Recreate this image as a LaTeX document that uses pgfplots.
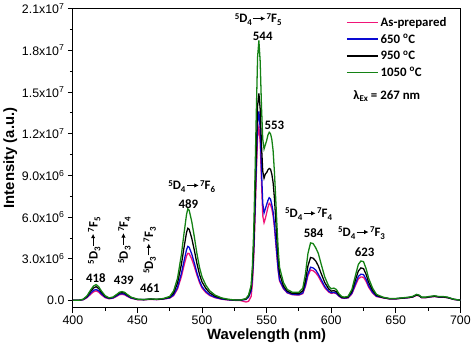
\documentclass[border=0pt]{standalone}
\usepackage{fontspec}
\setmainfont{Liberation Sans}
\newfontfamily\calfont{Carlito}
\usepackage{pgfplots}
\pgfplotsset{compat=1.18}
\usepackage{pgfplotstable}
\usetikzlibrary{arrows.meta}
\definecolor{cpink}{RGB}{240,20,120}
\definecolor{cblue}{RGB}{10,10,210}
\definecolor{cgreen}{RGB}{20,130,20}
\pgfplotstableread{
wl g k b p
400 0.02 0.02 0.02 0.02
405 0.03 0.03 0.03 0.03
408 0.10 0.09 0.07 0.06
411 0.35 0.30 0.25 0.21
414 0.80 0.70 0.56 0.48
416 1.05 0.91 0.74 0.63
418 1.15 1.00 0.80 0.70
420 1.00 0.87 0.70 0.60
422 0.70 0.61 0.49 0.42
425 0.35 0.30 0.25 0.21
428 0.20 0.18 0.15 0.13
431 0.25 0.23 0.19 0.17
434 0.45 0.41 0.35 0.31
436 0.60 0.54 0.46 0.42
438 0.65 0.58 0.50 0.45
440 0.60 0.54 0.46 0.42
442 0.45 0.41 0.35 0.31
445 0.25 0.23 0.19 0.17
450 0.10 0.09 0.08 0.07
455 0.08 0.07 0.07 0.06
460 0.12 0.11 0.10 0.09
465 0.10 0.09 0.08 0.07
470 0.15 0.13 0.12 0.11
475 0.30 0.25 0.20 0.18
478 0.70 0.55 0.41 0.36
481 1.60 1.26 0.94 0.83
484 3.30 2.60 1.95 1.72
486 4.80 3.79 2.83 2.50
488 6.20 4.90 3.66 3.22
489 6.60 5.20 3.90 3.40
490 6.50 5.13 3.84 3.38
492 5.70 4.50 3.36 3.00
494 4.60 3.63 2.71 2.45
496 3.40 2.69 2.01 1.85
498 2.40 1.90 1.42 1.30
500 1.70 1.34 1.00 0.90
503 1.10 0.87 0.65 0.57
506 0.70 0.55 0.41 0.36
510 0.40 0.32 0.24 0.21
515 0.20 0.16 0.12 0.10
520 0.10 0.08 0.06 0.05
525 0.05 0.04 0.03 0.02
530 0.05 0.04 0.03 0.00
534 0.15 0.12 0.08 -0.10
536 0.40 0.32 0.25 -0.05
538 1.10 0.90 0.70 0.30
539 2.50 2.00 1.70 1.20
540 5.00 4.00 3.60 3.00
541 9.00 7.20 6.50 5.80
542 13.5 10.8 9.80 9.00
543 17.5 14.0 12.8 11.8
544 18.7 14.9 13.6 12.5
545 17.2 13.8 12.4 11.4
546 14.0 11.2 9.4 8.6
547 11.6 9.30 7.0 6.1
548 10.9 8.80 6.3 5.6
549 11.2 9.10 6.6 5.9
550 11.5 9.20 6.9 6.3
551 11.9 9.40 7.2 6.7
552 12.1 9.50 7.4 7.0
553 12.0 9.45 7.3 6.9
554 11.6 9.10 6.9 6.6
555 10.8 8.50 6.4 6.1
556 9.3 7.40 5.5 5.3
557 7.4 5.90 4.4 4.2
558 5.4 4.30 3.3 3.1
559 3.6 2.90 2.2 2.1
560 2.4 1.95 1.5 1.4
563 1.3 1.05 0.90 0.85
566 0.8 0.68 0.58 0.55
570 0.6 0.51 0.45 0.42
575 0.6 0.50 0.42 0.40
578 0.9 0.70 0.55 0.50
580 1.9 1.40 1.10 1.00
582 3.4 2.50 1.95 1.80
584 4.15 3.10 2.40 2.20
586 4.10 3.05 2.35 2.15
588 3.80 2.85 2.20 2.00
590 3.40 2.50 1.90 1.75
592 2.70 2.00 1.55 1.40
595 1.70 1.30 1.02 0.92
598 1.05 0.85 0.68 0.62
600 0.85 0.68 0.56 0.52
602 0.90 0.72 0.60 0.55
604 0.80 0.64 0.53 0.50
606 0.50 0.40 0.34 0.31
608 0.30 0.25 0.21 0.19
610 0.25 0.21 0.18 0.16
613 0.30 0.25 0.21 0.19
616 0.80 0.66 0.54 0.48
619 1.90 1.56 1.27 1.14
621 2.60 2.13 1.74 1.56
623 2.85 2.35 1.90 1.70
625 2.80 2.30 1.87 1.68
627 2.30 1.89 1.54 1.38
629 1.60 1.31 1.07 0.96
632 0.90 0.74 0.60 0.54
635 0.45 0.38 0.32 0.29
640 0.25 0.22 0.22 0.20
645 0.15 0.14 0.13 0.12
650 0.15 0.14 0.13 0.12
655 0.20 0.18 0.18 0.17
660 0.25 0.22 0.22 0.21
663 0.30 0.27 0.27 0.25
666 0.45 0.40 0.40 0.38
668 0.40 0.36 0.36 0.34
670 0.25 0.22 0.22 0.21
673 0.25 0.22 0.22 0.21
676 0.30 0.27 0.27 0.25
680 0.35 0.31 0.31 0.30
683 0.30 0.27 0.27 0.25
686 0.30 0.27 0.27 0.25
690 0.25 0.22 0.22 0.21
695 0.10 0.09 0.09 0.08
700 0.03 0.03 0.03 0.03
}\data
\newsavebox\arrbox
\newcommand\sups[1]{\raisebox{0.6ex}{\fontsize{9}{9}\selectfont #1}}
\newcommand\subs[1]{\raisebox{-0.45ex}{\fontsize{9}{9}\selectfont #1}}
\newcommand\arr{\raisebox{0.35ex}{\usebox\arrbox}}
\newcommand\trans[4]{\sups{#1}D\subs{#2}\kern1pt\arr\kern1pt\sups{#3}F\subs{#4}}
\begin{document}
\sbox\arrbox{\tikz\draw[line width=0.9pt,-{Latex[length=4.5pt,width=4.5pt]}](0,0)--(12pt,0);}%
\begin{tikzpicture}[x=1bp,y=1bp]
\begin{axis}[
  scale only axis,
  width=390bp, height=301bp,
  xmin=400, xmax=700, ymin=-0.5, ymax=21,
  xtick={400,450,...,700},
  minor xtick={425,475,...,675},
  ytick={0,3,6,9,12,15,18,21},
  minor ytick={1.5,4.5,...,19.5},
  yticklabels={0.0,3.0x10\textsuperscript{6},6.0x10\textsuperscript{6},9.0x10\textsuperscript{6},1.2x10\textsuperscript{7},1.5x10\textsuperscript{7},1.8x10\textsuperscript{7},2.1x10\textsuperscript{7}},
  xticklabels={400,450,500,550,600,650,700},
  tick pos=left,
  tick align=outside,
  major tick length=5bp,
  minor tick length=3bp,
  every tick/.style={black, line width=0.9pt},
  axis line style={line width=1.1pt},
  tick label style={font=\fontsize{12.5}{14}\selectfont},
  xlabel={\textbf{Wavelength (nm)}},
  ylabel={\textbf{Intensity (a.u.)}},
  label style={font=\fontsize{15}{17}\selectfont},
  xlabel style={yshift=3bp},
  ylabel style={yshift=-2bp},
  legend style={draw=none, fill=none, at={(0.702,0.985)}, anchor=north west,
    font=\calfont\bfseries\fontsize{13}{15}\selectfont, inner sep=1pt,
    nodes={inner ysep=3.2bp}},
  legend cell align=left,
  legend image code/.code={\draw[#1, line width=1.8pt] (0bp,0bp) -- (31bp,0bp);},
  clip=false,
]
\addplot[color=cpink, line width=1.3pt] table[x=wl,y=p]{\data};
\addlegendentry{As-prepared}
\addplot[color=cblue, line width=1.3pt] table[x=wl,y=b]{\data};
\addlegendentry{650 \textsuperscript{o}C}
\addplot[color=black, line width=1.3pt] table[x=wl,y=k]{\data};
\addlegendentry{950 \textsuperscript{o}C}
\addplot[color=cgreen, line width=1.3pt] table[x=wl,y=g]{\data};
\addlegendentry{1050 \textsuperscript{o}C}

\begin{scope}[every node/.style={font=\calfont\bfseries\fontsize{13}{15}\selectfont, inner sep=0pt}]
\node[anchor=west] at (axis cs:617,14.7) {λ\subs{Ex} = 267 nm};
\node at (axis cs:543.5,20.2) {\trans5{4}7{5}};
\node at (axis cs:547,19.0) {544};
\node at (axis cs:556,12.6) {553};
\node at (axis cs:492,8.2) {\trans5{4}7{6}};
\node at (axis cs:489.5,6.95) {489};
\node at (axis cs:417.8,1.65) {418};
\node at (axis cs:439.4,1.45) {439};
\node at (axis cs:459.6,0.9) {461};
\node[rotate=90] at (axis cs:416.5,4.3) {\trans5{3}7{5}};
\node[rotate=90] at (axis cs:440,4.35) {\trans5{3}7{4}};
\node[rotate=90] at (axis cs:459.6,3.6) {\trans5{3}7{3}};
\node at (axis cs:582.5,6.2) {\trans5{4}7{4}};
\node at (axis cs:586.4,4.85) {584};
\node at (axis cs:623.5,4.85) {\trans5{4}7{3}};
\node at (axis cs:625.8,3.5) {623};
\end{scope}
\end{axis}
\end{tikzpicture}
\end{document}
